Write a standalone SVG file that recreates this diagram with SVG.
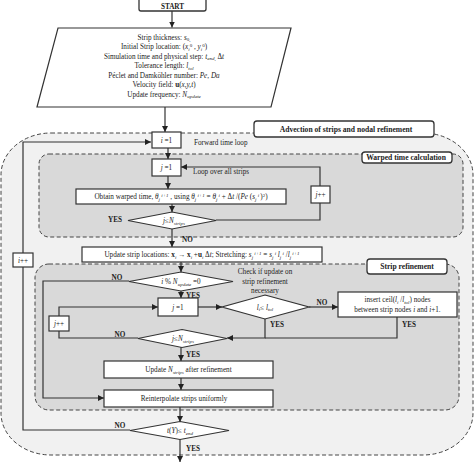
<svg xmlns="http://www.w3.org/2000/svg" width="474" height="462" viewBox="0 0 474 462">
<style>
text{font-family:"Liberation Serif","Times New Roman",serif;font-size:7.2px;fill:#222}
.c{text-anchor:middle}
.b{font-weight:bold}
.lb{font-size:7.6px}
.i{font-style:italic}
.s{font-size:5px}
.box{fill:#fff;stroke:#333;stroke-width:1.2}
.lbl{fill:#fff;stroke:#333;stroke-width:1.3}
.reg1{fill:#f1f1f1;stroke:#444;stroke-width:1;stroke-dasharray:4 2.5}
.reg2{fill:#d9d9d9;stroke:#444;stroke-width:1;stroke-dasharray:4 2.5}
.ln{fill:none;stroke:#333;stroke-width:1.2}
</style>
<defs>
<marker id="ar" viewBox="0 0 10 10" refX="10" refY="5" markerWidth="6" markerHeight="6" markerUnits="userSpaceOnUse" orient="auto">
<path d="M0,0 L10,5 L0,10 z" fill="#222"/>
</marker>
</defs>
<rect width="474" height="462" fill="#fff"/>

<g id="region-advection">
<rect class="reg1" x="1" y="133" width="472" height="322" rx="50" ry="42"/>
</g>
<g id="region-warped">
<rect class="reg2" x="39" y="154" width="424" height="83" rx="10"/>
</g>
<g id="region-strip">
<rect class="reg2" x="35" y="264" width="424" height="146" rx="14"/>
</g>

<g id="connectors">
<path class="ln" d="M172,11 V27.5" marker-end="url(#ar)"/>
<path class="ln" d="M165,107 V132" marker-end="url(#ar)"/>
<path class="ln" d="M130,430 H23 V142 H151" marker-end="url(#ar)"/>
<path class="ln" d="M168,148 V159" marker-end="url(#ar)"/>
<path class="ln" d="M168,176 V189" marker-end="url(#ar)"/>
<path class="ln" d="M172,204 V212" marker-end="url(#ar)"/>
<path class="ln" d="M216,220 H320 V203"/>
<path class="ln" d="M320,186 V167 H181" marker-end="url(#ar)"/>
<path class="ln" d="M172,229 V247" marker-end="url(#ar)"/>
<path class="ln" d="M181,262 V272" marker-end="url(#ar)"/>
<path class="ln" d="M129,281 H43 V398 H104" marker-end="url(#ar)"/>
<path class="ln" d="M181,291 V298" marker-end="url(#ar)"/>
<path class="ln" d="M198,307 H222" marker-end="url(#ar)"/>
<path class="ln" d="M309,307 H338" marker-end="url(#ar)"/>
<path class="ln" d="M265,318 V338 H227" marker-end="url(#ar)"/>
<path class="ln" d="M397,317 V338 H265"/>
<path class="ln" d="M138,338 H59 V307 H158" marker-end="url(#ar)"/>
<path class="ln" d="M181,347 V361" marker-end="url(#ar)"/>
<path class="ln" d="M181,378 V390" marker-end="url(#ar)"/>
<path class="ln" d="M180,407 V422" marker-end="url(#ar)"/>
<path class="ln" d="M180,439 V462" marker-end="url(#ar)"/>
</g>

<g id="start">
<rect x="139" y="-6" width="67" height="17" rx="2" fill="#fff" stroke="#333" stroke-width="1.3"/>
<text class="c b" x="172.5" y="8.5" font-size="7.5">START</text>
</g>

<g id="inputs">
<polygon class="box" points="58,28 291,28 271,107 37,107"/>
<text class="c" x="164" y="39.5">Strip thickness: <tspan class="i">s</tspan><tspan class="s" dy="1.5">0,</tspan></text>
<text class="c" x="164" y="49">Initial Strip  location: (<tspan class="i">x</tspan><tspan class="s i" dy="1.5">i</tspan><tspan class="s" dy="-4">0</tspan><tspan dy="2.5"> , </tspan><tspan class="i">y</tspan><tspan class="s i" dy="1.5">i</tspan><tspan class="s" dy="-4">0</tspan><tspan dy="2.5">)</tspan></text>
<text class="c" x="164" y="58.5">Simulation time and physical step: <tspan class="i">t</tspan><tspan class="s i" dy="1.5">end,</tspan><tspan dy="-1.5"> Δ</tspan><tspan class="i">t</tspan></text>
<text class="c" x="164" y="68">Tolerance length: <tspan class="i">l</tspan><tspan class="s i" dy="1.5">tol</tspan></text>
<text class="c" x="164" y="77.5">Péclet and Damköhler number: <tspan class="i">Pe</tspan>, <tspan class="i">Da</tspan></text>
<text class="c" x="164" y="87">Velocity field: <tspan font-weight="bold">u</tspan>(<tspan class="i">x,y,t</tspan>)</text>
<text class="c" x="164" y="96.5">Update frequency: <tspan class="i">N</tspan><tspan class="s i" dy="1.5">update</tspan></text>
</g>

<g id="label-advection">
<rect class="lbl" x="254" y="121" width="180" height="16" rx="3"/>
<text class="c b lb" x="346" y="131.5">Advection of strips and nodal refinement</text>
</g>

<g id="i-init">
<rect class="box" x="152" y="132" width="29" height="16"/>
<text class="c" x="166.5" y="142.5"><tspan class="i">i</tspan> =1</text>
<text x="194" y="144.5">Forward time loop</text>
</g>

<g id="label-warped">
<rect class="lbl" x="362" y="152" width="90" height="11" rx="3"/>
<text class="c b lb" x="406" y="160.2">Warped time calculation</text>
</g>

<g id="j-init-1">
<rect class="box" x="152" y="159" width="29" height="17"/>
<text class="c" x="166.5" y="170"><tspan class="i">j</tspan> =1</text>
<text x="193" y="174">Loop over all strips</text>
</g>

<g id="obtain">
<rect class="box" x="76" y="189" width="210" height="15"/>
<text class="c" x="181" y="199">Obtain warped time, <tspan class="i">θ</tspan><tspan class="s i" dy="1.5">j</tspan><tspan class="s i" dy="-4"> i+1</tspan><tspan dy="2.5"> , using </tspan><tspan class="i">θ</tspan><tspan class="s i" dy="1.5">j</tspan><tspan class="s i" dy="-4"> i+1</tspan><tspan dy="2.5"> = </tspan><tspan class="i">θ</tspan><tspan class="s i" dy="1.5">j</tspan><tspan class="s i" dy="-4"> i</tspan><tspan dy="2.5"> + Δ</tspan><tspan class="i">t</tspan> /(<tspan class="i">Pe</tspan> (<tspan class="i">s</tspan><tspan class="s i" dy="1.5">j</tspan><tspan class="s i" dy="-4"> i </tspan><tspan dy="2.5">)</tspan><tspan class="s" dy="-2.5">2</tspan><tspan dy="2.5">)</tspan></text>
</g>

<g id="j-inc-1">
<rect class="box" x="311" y="186" width="19" height="17"/>
<text class="c" x="320.5" y="197"><tspan class="i">j</tspan>++</text>
</g>

<g id="check-j-1">
<polygon class="box" points="172,212 216,220.5 172,229 128,220.5"/>
<text class="c" x="174" y="223"><tspan class="i">j</tspan>≤<tspan class="i">N</tspan><tspan class="s i" dy="1.5">strips</tspan></text>
<text class="c b" x="115" y="222">YES</text>
<text class="b" x="182" y="242">NO</text>
</g>

<g id="i-inc">
<rect class="box" x="13" y="253" width="20" height="14"/>
<text class="c" x="23" y="262.5"><tspan class="i">i</tspan>++</text>
</g>

<g id="update-locations">
<rect class="box" x="82" y="247" width="240" height="15"/>
<text class="c" x="202" y="257">Update strip locations: <tspan font-weight="bold">x</tspan><tspan class="s i" dy="1.5">i</tspan><tspan dy="-1.5"> → </tspan><tspan font-weight="bold">x</tspan><tspan class="s i" dy="1.5">i</tspan><tspan dy="-1.5"> +</tspan><tspan font-weight="bold">u</tspan><tspan class="s i" dy="1.5">i</tspan><tspan dy="-1.5"> Δ</tspan><tspan class="i">t</tspan>; Stretching:  <tspan class="i">s</tspan><tspan class="s i" dy="1.5">j</tspan><tspan class="s i" dy="-4"> i+1</tspan><tspan dy="2.5"> = </tspan><tspan class="i">s</tspan><tspan class="s i" dy="1.5">j</tspan><tspan class="s i" dy="-4"> i</tspan><tspan dy="2.5"> </tspan><tspan class="i">l</tspan><tspan class="s i" dy="1.5">j</tspan><tspan class="s i" dy="-4"> i</tspan><tspan dy="2.5"> /</tspan><tspan class="i">l</tspan><tspan class="s i" dy="1.5">j</tspan><tspan class="s i" dy="-4"> i+1</tspan></text>
</g>

<g id="label-strip">
<rect class="lbl" x="367" y="259" width="80" height="15" rx="3"/>
<text class="c b lb" x="407" y="269">Strip refinement</text>
</g>

<g id="check-update">
<polygon class="box" points="181,272 233,281.5 181,291 129,281.5"/>
<text class="c" x="181" y="284"><tspan class="i">i</tspan> % <tspan class="i">N</tspan><tspan class="s i" dy="1.5">update</tspan><tspan dy="-1.5"> =0</tspan></text>
<text class="c b" x="117" y="280">NO</text>
<text class="b" x="186" y="297.5">YES</text>
<text class="c" x="265" y="274">Check if update  on</text>
<text class="c" x="265" y="283.5">strip refinement</text>
<text class="c" x="265" y="293">necessary</text>
</g>

<g id="j-init-2">
<rect class="box" x="158" y="298" width="40" height="18"/>
<text class="c" x="178" y="309.5"><tspan class="i">j</tspan> =1</text>
</g>

<g id="check-length">
<polygon class="box" points="265,295 309,307 265,319 222,307"/>
<text class="c" x="265" y="309.5"><tspan class="i">l</tspan><tspan class="s i" dy="1.5">i</tspan><tspan dy="-1.5">≤ </tspan><tspan class="i">l</tspan><tspan class="s i" dy="1.5">tol</tspan></text>
<text class="c b" x="322" y="305">NO</text>
<text class="b" x="270" y="327">YES</text>
</g>

<g id="insert-nodes">
<rect class="box" x="338" y="292" width="119" height="25"/>
<text class="c" x="397.5" y="302">insert ceil(<tspan class="i">l</tspan><tspan class="s i" dy="1.5">i</tspan><tspan dy="-1.5"> /</tspan><tspan class="i">l</tspan><tspan class="s i" dy="1.5">tol</tspan><tspan dy="-1.5">) nodes</tspan></text>
<text class="c" x="397.5" y="312">between strip nodes <tspan class="i">i</tspan> and <tspan class="i">i</tspan>+1.</text>
<text class="b" x="402" y="327">YES</text>
</g>

<g id="j-inc-2">
<rect class="box" x="49" y="316" width="20" height="15"/>
<text class="c" x="59" y="326"><tspan class="i">j</tspan>++</text>
</g>

<g id="check-j-2">
<polygon class="box" points="182,329.5 227,338.5 182,347.5 138,338.5"/>
<text class="c" x="183" y="341"><tspan class="i">j</tspan>≤<tspan class="i">N</tspan><tspan class="s i" dy="1.5">strips</tspan></text>
<text class="c b" x="120" y="337">NO</text>
<text class="b" x="186" y="356.5">YES</text>
</g>

<g id="update-nstrips">
<rect class="box" x="104" y="361" width="169" height="17"/>
<text class="c" x="188.5" y="372">Update <tspan class="i">N</tspan><tspan class="s i" dy="1.5">strips</tspan><tspan dy="-1.5">  after refinement</tspan></text>
</g>

<g id="reinterpolate">
<rect class="box" x="104" y="390" width="169" height="17"/>
<text class="c" x="184" y="401">Reinterpolate strips uniformly</text>
</g>

<g id="check-time">
<polygon class="box" points="180,421.5 229,430.5 180,439.5 130,430.5"/>
<text class="c" x="180" y="433"><tspan class="i">t</tspan>(<tspan class="i">Y</tspan>)≤ <tspan class="i">t</tspan><tspan class="s i" dy="1.5">end</tspan></text>
<text class="c b" x="120" y="428">NO</text>
<text class="b" x="186" y="451">YES</text>
</g>
</svg>
